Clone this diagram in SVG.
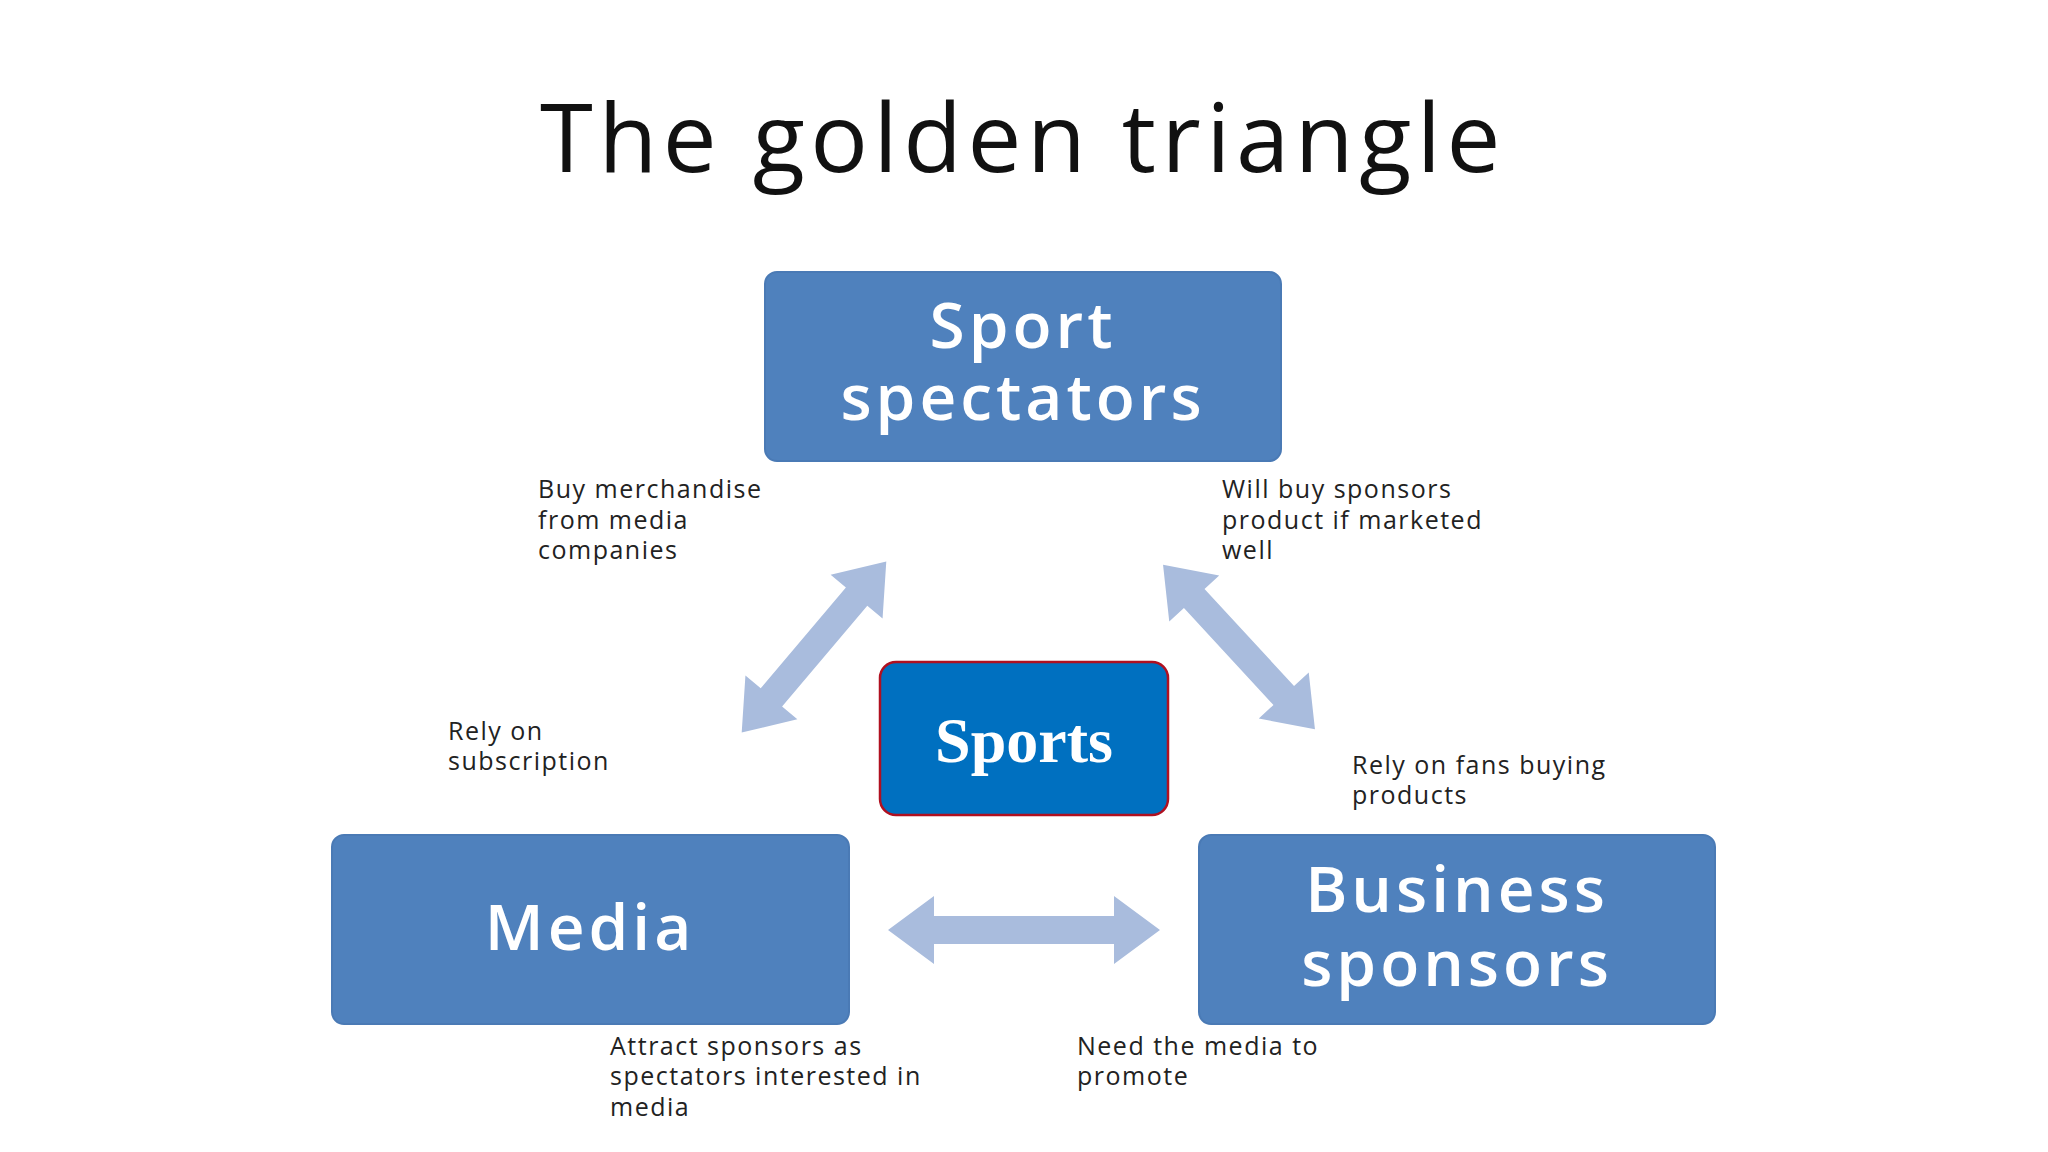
<svg xmlns="http://www.w3.org/2000/svg" width="2048" height="1152" viewBox="0 0 2048 1152">
<style>
.box{fill:#4f81bd;stroke:#4a7ab5;stroke-width:2}
.big{font-family:"Open Sans","Liberation Sans",sans-serif;font-size:64px;font-weight:600;fill:#fff;text-anchor:middle;letter-spacing:4px}
.lbl{font-family:"Open Sans","Liberation Sans",sans-serif;font-size:25px;fill:#222;letter-spacing:1.5px}
.arr{fill:#a9bcdd}
</style>
<rect width="2048" height="1152" fill="#fff"/>
<text x="1023" y="172" font-family="'Open Sans','Liberation Sans',sans-serif" font-size="96" text-anchor="middle" fill="#111" letter-spacing="5.5">The golden triangle</text>
<g id="connectors">
<g transform="translate(814,647) rotate(-49.8)"><polygon class="arr" points="-112,0 -66,-34 -66,-14 66,-14 66,-34 112,0 66,34 66,14 -66,14 -66,34"/></g>
<g transform="translate(1239,647) rotate(47.3)"><polygon class="arr" points="-112,0 -66,-34 -66,-14 66,-14 66,-34 112,0 66,34 66,14 -66,14 -66,34"/></g>
<g transform="translate(1024,930)"><polygon class="arr" points="-136,0 -90,-34 -90,-14 90,-14 90,-34 136,0 90,34 90,14 -90,14 -90,34"/></g>
</g>
<g id="spectators"><rect class="box" x="765" y="272" width="516" height="189" rx="12"/><text class="big" x="1023" y="348">Sport</text><text class="big" x="1023" y="420">spectators</text></g>
<g id="media"><rect class="box" x="332" y="835" width="517" height="189" rx="12"/><text class="big" x="590" y="950">Media</text></g>
<g id="business"><rect class="box" x="1199" y="835" width="516" height="189" rx="12"/><text class="big" x="1457" y="912">Business</text><text class="big" x="1457" y="986">sponsors</text></g>
<g id="sports"><rect x="880" y="662" width="288" height="153" rx="16" fill="#0070c0" stroke="#b01020" stroke-width="2.5"/><text x="1024" y="762" font-family="'Liberation Serif',serif" font-size="64" font-weight="bold" fill="#fff" text-anchor="middle">Sports</text></g>
<g id="labels">
<text class="lbl"><tspan x="538" y="498">Buy merchandise</tspan><tspan x="538" y="529">from media</tspan><tspan x="538" y="559">companies</tspan></text>
<text class="lbl"><tspan x="1222" y="498">Will buy sponsors</tspan><tspan x="1222" y="529">product if marketed</tspan><tspan x="1222" y="559">well</tspan></text>
<text class="lbl"><tspan x="448" y="740">Rely on</tspan><tspan x="448" y="770">subscription</tspan></text>
<text class="lbl"><tspan x="1352" y="774">Rely on fans buying</tspan><tspan x="1352" y="804">products</tspan></text>
<text class="lbl"><tspan x="610" y="1055">Attract sponsors as</tspan><tspan x="610" y="1085">spectators interested in</tspan><tspan x="610" y="1116">media</tspan></text>
<text class="lbl"><tspan x="1077" y="1055">Need the media to</tspan><tspan x="1077" y="1085">promote</tspan></text>
</g>
</svg>
